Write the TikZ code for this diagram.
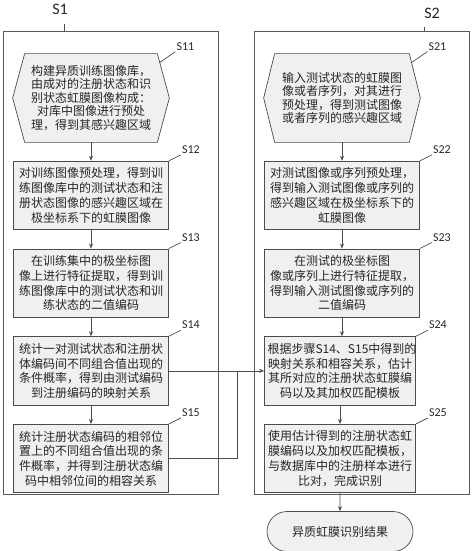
\documentclass[tikz,border=0pt]{standalone}
\usepackage{fontspec}
\newfontfamily\cjk{Noto Sans CJK SC}
\newfontfamily\labfont{Carlito}
\usetikzlibrary{positioning,shapes.misc,arrows.meta,backgrounds,calc}
\begin{document}
\begin{tikzpicture}[x=1pt,y=-1pt,
    box/.style={rectangle, draw=black!70, fill=gray!12, line width=0.7pt, text width=149pt, inner xsep=3pt, minimum height=68.5pt, align=center, font=\cjk\fontsize{12}{14.7}\selectfont, text=black!85},
    hexbox/.style={box, draw=none, fill=none, text width=126pt, minimum height=88pt, font=\cjk\fontsize{12}{13.5}\selectfont},
    stage/.style={rectangle, draw=black!65, line width=0.7pt, minimum width=215pt, minimum height=463pt},
    steplab/.style={font=\labfont\fontsize{12}{12}\selectfont, inner sep=1pt, text=black!85},
    stagelab/.style={font=\labfont\fontsize{16}{16}\selectfont, inner sep=1pt, text=black!85},
    conn/.style={draw=black!70, line width=0.7pt},
    connarrow/.style={conn, -{Stealth[length=5pt,width=4pt]}}]
    \useasboundingbox (0,0) rectangle (474,551);
    \node[stage] (g1) at (110.5,262.5) {};
    \node[stage] (g2) at (361.5,262.5) {};
    \node[stagelab] (l1) at (60,9) {S1};
    \node[stagelab] (l2) at (432,13) {S2};
    \coordinate (t1) at (64,24);
    \coordinate (t2) at (424,27);
    \draw[conn] (t1) -- (t1 |- g1.north);
    \draw[conn] (t2) -- (t2 |- g2.north);

    \node[hexbox] (s11) at (91,98) {构建异质训练图像库，\\由成对的注册状态和识\\别状态虹膜图像构成：\\对库中图像进行预处\\理，得到其感兴趣区域};
    \node[box, below=18.5pt of s11] (s12) {对训练图像预处理，得到训\\练图像库中的测试状态和注\\册状态图像的感兴趣区域在\\极坐标系下的虹膜图像};
    \node[box, below=18.5pt of s12] (s13) {在训练集中的极坐标图\\像上进行特征提取，得到训\\练图像库中的测试状态和训\\练状态的二值编码};
    \node[box, below=18.5pt of s13] (s14) {统计一对测试状态和注册状\\体编码间不同组合值出现的\\条件概率，得到由测试编码\\到注册编码的映射关系};
    \node[box, below=18.5pt of s14] (s15) {统计注册状态编码的相邻位\\置上的不同组合值出现的条\\件概率，并得到注册状态编\\码中相邻位间的相容关系};

    \node[hexbox, text width=128pt] (s21) at (342,98) {输入测试状态的虹膜图\\像或者序列，对其进行\\预处理，得到测试图像\\或者序列的感兴趣区域};
    \node[box, below=18.5pt of s21] (s22) {对测试图像或序列预处理，\\得到输入测试图像或序列的\\感兴趣区域在极坐标系下的\\虹膜图像};
    \node[box, below=18.5pt of s22] (s23) {在测试的极坐标图\\像或序列上进行特征提取，\\得到输入测试图像或序列的\\二值编码};
    \node[box, text width=145pt, below right=18.5pt and 0pt of s23.south west] (s24) {根据步骤S14、S15中得到的\\映射关系和相容关系，估计\\其所对应的注册状态虹膜编\\码以及其加权匹配模板};
    \node[box, text width=145pt, below=18.5pt of s24] (s25) {使用估计得到的注册状态虹\\膜编码以及加权匹配模板，\\与数据库中的注册样本进行\\比对，完成识别};
    \node[box, rounded rectangle, text width=, minimum width=152pt, minimum height=40pt, below=18pt of s25] (res) {异质虹膜识别结果};

    \begin{scope}[on background layer]
        \foreach \h/\d in {s11/12pt, s21/11pt}
            \filldraw[draw=black!70, fill=gray!12, line width=0.7pt] ([xshift=-\d]\h.west) -- (\h.north west) -- (\h.north east) -- ([xshift=\d]\h.east) -- (\h.south east) -- (\h.south west) -- cycle;
    \end{scope}

    \node[steplab, above right=2pt and 18pt of s11.north east] (l11) {S11};
    \node[steplab, above right=2pt and 18pt of s21.north east] (l21) {S21};
    \foreach \s in {12,13,14,15,22,23,24,25}
        \node[steplab, above right=6pt and 12pt of s\s.north east] (l\s) {S\s};
    \draw[conn] ($(s11.north east)!0.2!([xshift=12pt]s11.east)$) -- (l11.south west);
    \draw[conn] ($(s21.north east)!0.2!([xshift=11pt]s21.east)$) -- (l21.south west);
    \foreach \s in {12,13,14,15,22,23,24,25}
        \draw[conn] (s\s.north east) -- (l\s.south west);

    \draw[connarrow] (s11) -- (s12);
    \draw[connarrow] (s12) -- (s13);
    \draw[connarrow] (s13) -- (s14);
    \draw[connarrow] (s14) -- (s15);
    \draw[connarrow] (s21) -- (s22);
    \draw[connarrow] (s22) -- (s23);
    \draw[connarrow] (s23.south) -- (s23.south |- s24.north);
    \draw[connarrow] (s24) -- (s25);
    \draw[connarrow] (s25) -- (res);
    \coordinate (j) at ([xshift=68pt]s14.east);
    \draw[connarrow] (s14.east) -- (s24.west);
    \draw[conn] (s15.east) -| (j);
\end{tikzpicture}
\end{document}
